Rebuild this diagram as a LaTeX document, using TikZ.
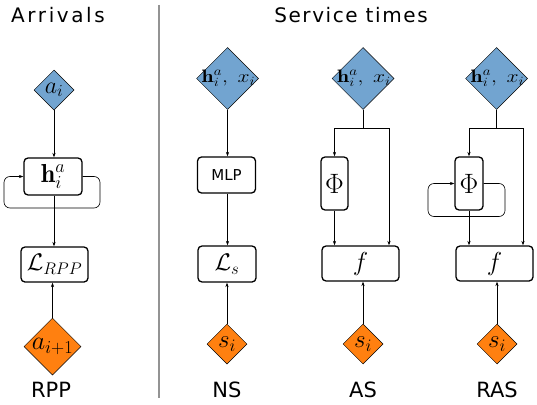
\RequirePackage{fix-cm}
\documentclass[tikz,border=0pt]{standalone}
\usepackage{fontspec}
\usetikzlibrary{shapes.geometric,arrows.meta}
\newfontfamily\labfont{DejaVu Sans}
\newfontfamily\titlefont[LetterSpace=8]{DejaVu Sans}
\newfontfamily\titlefontw[LetterSpace=13]{DejaVu Sans}
\definecolor{dblue}{RGB}{114,164,208}
\definecolor{dorange}{RGB}{255,128,16}
\begin{document}
\begin{tikzpicture}[x=1pt,y=-1pt,
  box/.style={draw, rounded corners=4pt, line width=1.3pt, inner sep=0pt},
  dia/.style={diamond, draw, line width=0.5pt, inner sep=0pt, aspect=1},
  conn/.style={line width=0.6pt},
  arr/.style={conn, -{Stealth[length=4.5pt,width=3.2pt]}},
  loop/.style={arr, rounded corners=6pt},
  lab/.style={font=\labfont\fontsize{21}{21}\selectfont},
  ttl/.style={font=\titlefont\fontsize{20}{20}\selectfont},
  m/.style={inner sep=0pt}]
\useasboundingbox (0,0) rectangle (537,404);

% titles and separator
\node[ttl, font=\titlefontw\fontsize{20}{20}\selectfont] (tArr) at (58,15) {Arrivals};
\node[ttl] (tSer) at (351,15) {Service times};
\coordinate (sepT) at (159,5);
\coordinate (sepB) at (159,398);
\draw[gray!85, line width=1.2pt] (sepT) -- (sepB);

% ---------- RPP ----------
\node[dia, fill=dblue, minimum size=40pt] (ai) at (54,90) {};
\node[m] (aiT) at (ai.center) {\fontsize{24}{24}\selectfont $a_i$};
\node[box, minimum width=58pt, minimum height=37pt] (h) at (53,176.5) {\fontsize{26}{26}\selectfont $\mathbf{h}^a_i$};
\node[box, minimum width=67pt, minimum height=35pt] (L) at (54.5,264.5) {\fontsize{24}{24}\selectfont $\mathcal{L}_{RPP}$};
\node[dia, fill=dorange, minimum size=57pt] (a1) at (52.5,346.5) {};
\node[m] (a1T) at (a1.center) {\fontsize{26}{26}\selectfont $a_{i+1}$};
\node[lab] (lRPP) at (51,390) {RPP};
\draw[arr] (ai.south) -- (ai.south |- h.north);
\draw[arr] (h.south -| ai.south) -- (ai.south |- L.north);
\draw[arr] (a1.north) -- (a1.north |- L.south);
\draw[loop] (h.east) -- (100,176.5) -- (100,208) -- (4,208) -- (4,176.5) -- (h.west);

% ---------- NS ----------
\node[dia, fill=dblue, minimum size=62pt] (dNS) at (227.5,78.5) {};
\node[m] (dNST) at ([xshift=1pt]dNS.center) {\fontsize{18}{18}\selectfont\scalebox{1.2}[1]{$\mathbf{h}^a_i,\;x_i$}};
\node[box, minimum width=58pt, minimum height=36pt, font=\labfont\fontsize{15}{15}\selectfont] (mlp) at (226.5,175) {MLP};
\node[box, minimum width=58pt, minimum height=36pt] (Ls) at (227,264) {\fontsize{24}{24}\selectfont $\mathcal{L}_s$};
\node[dia, fill=dorange, minimum size=40pt] (sNS) at (227,344) {};
\node[m] (sNST) at (sNS.center) {\fontsize{25}{25}\selectfont $s_i$};
\node[lab] (lNS) at (227,390) {NS};
\draw[arr] (dNS.south) -- (dNS.south |- mlp.north);
\draw[arr] (dNS.south |- mlp.south) -- (dNS.south |- Ls.north);
\draw[arr] (sNS.north) -- (sNS.north |- Ls.south);

% ---------- AS ----------
\node[dia, fill=dblue, minimum size=62pt] (dAS) at (363,78.5) {};
\node[m] (dAST) at ([xshift=1pt]dAS.center) {\fontsize{18}{18}\selectfont\scalebox{1.2}[1]{$\mathbf{h}^a_i,\;x_i$}};
\node[box, minimum width=27pt, minimum height=53pt] (phiA) at (334.5,183.5) {\fontsize{28}{28}\selectfont $\Phi$};
\node[box, minimum width=77pt, minimum height=35pt] (fA) at (360.5,263.5) {\fontsize{26}{26}\selectfont $f$};
\node[dia, fill=dorange, minimum size=40pt] (sAS) at (363,344) {};
\node[m] (sAST) at (sAS.center) {\fontsize{25}{25}\selectfont $s_i$};
\node[lab] (lAS) at (363,390) {AS};
\coordinate (bA) at (363,128);
\coordinate (bAl) at (334.5,128);
\coordinate (bAr) at (389,128);
\draw[conn] (dAS.south) -- (bA);
\draw[arr] (bA) -- (bAl) -- (phiA.north);
\draw[arr] (bA) -- (bAr) -- (bAr |- fA.north);
\draw[arr] (phiA.south) -- (phiA.south |- fA.north);
\draw[arr] (sAS.north) -- (sAS.north |- fA.south);

% ---------- RAS ----------
\node[dia, fill=dblue, minimum size=62pt] (dRAS) at (496.5,78.5) {};
\node[m] (dRAST) at ([xshift=1pt]dRAS.center) {\fontsize{18}{18}\selectfont\scalebox{1.2}[1]{$\mathbf{h}^a_i,\;x_i$}};
\node[box, minimum width=28pt, minimum height=53pt] (phiR) at (469,183.5) {\fontsize{28}{28}\selectfont $\Phi$};
\node[box, minimum width=77pt, minimum height=35pt] (fR) at (494.5,263.5) {\fontsize{26}{26}\selectfont $f$};
\node[dia, fill=dorange, minimum size=40pt] (sRAS) at (497,344) {};
\node[m] (sRAST) at (sRAS.center) {\fontsize{25}{25}\selectfont $s_i$};
\node[lab] (lRAS) at (497,390) {RAS};
\coordinate (bR) at (496.5,128);
\coordinate (bRl) at (469,128);
\coordinate (bRr) at (523,128);
\draw[conn] (dRAS.south) -- (bR);
\draw[arr] (bR) -- (bRl) -- (phiR.north);
\draw[arr] (bR) -- (bRr) -- (bRr |- fR.north);
\draw[arr] (phiR.south) -- (phiR.south |- fR.north);
\draw[arr] (sRAS.north) -- (sRAS.north |- fR.south);
\draw[loop] (phiR.east) -- (505,183.5) -- (505,216.5) -- (428,216.5) -- (428,183.5) -- (phiR.west);
\end{tikzpicture}
\end{document}
